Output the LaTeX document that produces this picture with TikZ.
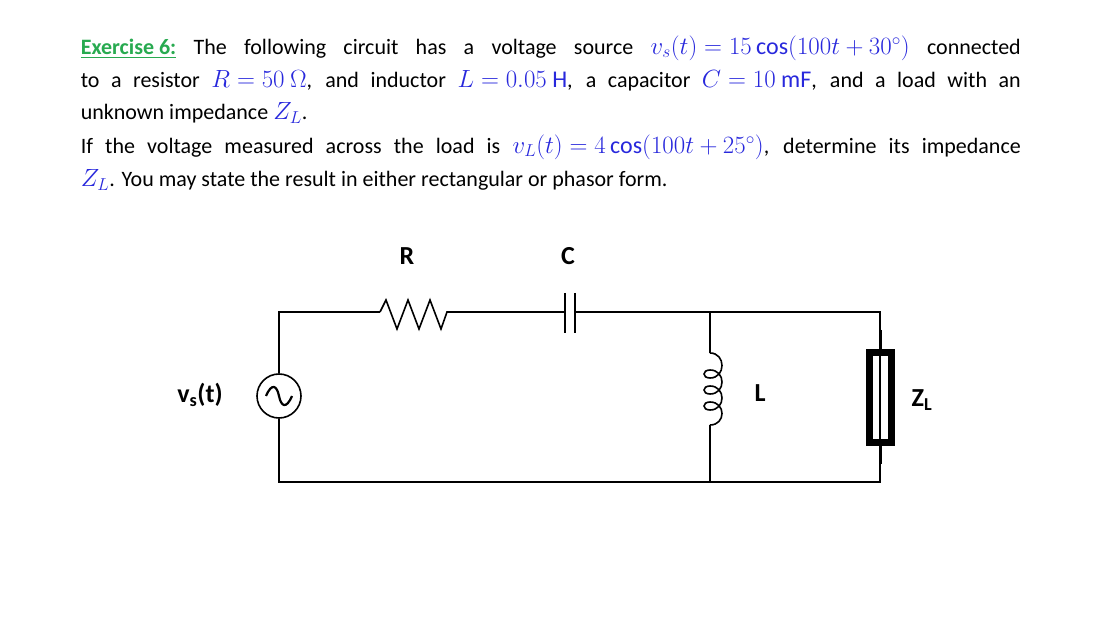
\documentclass[tikz,border=0pt]{standalone}
\usepackage{amsmath}
\usepackage{fontspec}
\setmainfont{Carlito}
\usepackage{xcolor}
\definecolor{mblue}{RGB}{40,40,220}
\definecolor{exgreen}{RGB}{40,170,80}
\newcommand{\m}[1]{\textcolor{mblue}{\mbox{\fontsize{24}{26}\selectfont$#1$}}}
\begin{document}
\begin{tikzpicture}[x=1pt, y=-1pt, line width=1.6pt,
    txt/.style={anchor=west, inner sep=0, font=\fontsize{22}{26}\selectfont},
    lbl/.style={font=\fontsize{26}{30}\selectfont\bfseries}]
    \useasboundingbox (0,0) rectangle (1112,631);

    \node[txt] (l1) at (80, 48)  {\makebox[940pt][s]{\textcolor{exgreen}{\textbf{\underline{Exercise 6:}}} The following circuit has a voltage source \m{v_s(t) = 15\cos(100t + 30^\circ)} connected}};
    \node[txt] (l2) at (80, 81)  {\makebox[940pt][s]{to a resistor \m{R = 50~\Omega}, and inductor \m{L = 0.05~\mathrm{H}}, a capacitor \m{C = 10~\mathrm{mF}}, and a load with an}};
    \node[txt] (l3) at (80, 113) {unknown impedance \m{Z_L}.};
    \node[txt] (l4) at (80, 147) {\makebox[940pt][s]{If the voltage measured across the load is \m{v_L(t) = 4\cos(100t + 25^\circ)}, determine its impedance}};
    \node[txt] (l5) at (80, 180) {\m{Z_L}. You may state the result in either rectangular or phasor form.};

    \coordinate (TL) at (279, 312);
    \coordinate (BL) at (279, 482);
    \coordinate (TM) at (710, 312);
    \coordinate (BM) at (710, 482);
    \coordinate (TR) at (880, 312);
    \coordinate (BR) at (880, 482);

    % source
    \node[draw, circle, minimum size=44pt, inner sep=0] (S) at (279, 396) {};
    \begin{scope}[shift={(S.center)}]
        \draw[line width=2.2pt] (-13,0) .. controls (-7,-14) and (-2,-10) .. (0,0) .. controls (2,10) and (7,14) .. (13,0);
    \end{scope}
    \draw (S.north) -- (TL) -- (380, 312);
    \draw (S.south) -- (BL) -- (BR) -- (TR) -- (TM);

    % resistor and capacitor
    \draw (380,312) -- (386,300) -- (397,329) -- (408,300) -- (419,329) -- (430,300) -- (441,329) -- (447,312) -- (565,312);
    \draw[line width=2.6pt] (565,293) -- (565,333);
    \draw[line width=2.6pt] (575,293) -- (575,333);
    \draw (575,312) -- (TM);

    % inductor
    \draw (TM) -- (710,353);
    \draw (710,353) .. controls (726,353) and (726,378) .. (710,378) .. controls (702,378) and (702,370) .. (710,370)
                    .. controls (726,370) and (726,394) .. (710,394) .. controls (702,394) and (702,386) .. (710,386)
                    .. controls (726,386) and (726,410) .. (710,410) .. controls (702,410) and (702,402) .. (710,402)
                    .. controls (726,402) and (726,425) .. (710,425);
    \draw (710,425) -- (BM);

    % load
    \draw[line width=7pt] (869,352) rectangle (891,442);
    \draw[line width=3pt] (880,330) -- (880,352);
    \draw[line width=3pt] (880,442) -- (880,464);

    \node[lbl] (R)  at (407, 256) {R};
    \node[lbl] (C)  at (568, 256) {C};
    \node[lbl] (VS) at (200, 395) {v\textsubscript{s}(t)};
    \node[lbl] (L)  at (760, 393) {L};
    \node[lbl] (ZL) at (922, 400) {Z\textsubscript{L}};
\end{tikzpicture}
\end{document}
